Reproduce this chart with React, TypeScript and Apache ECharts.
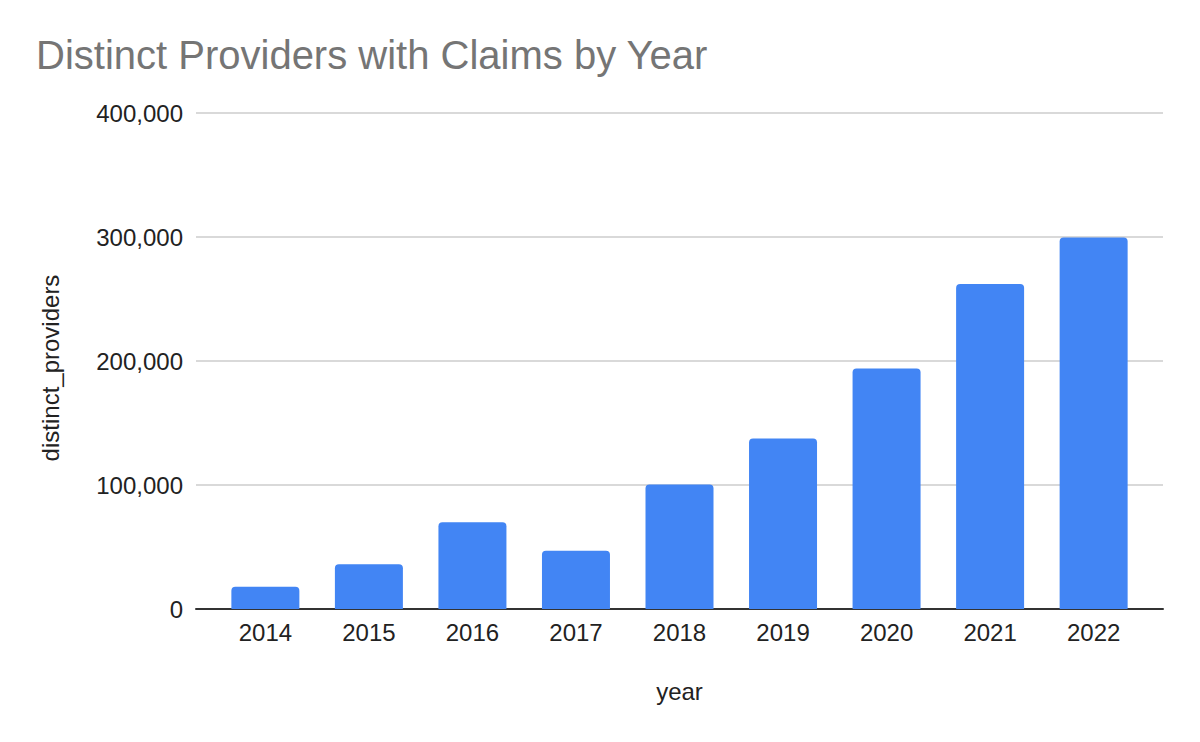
import { useEffect, useRef } from 'react';
import * as echarts from 'echarts';

const years = [2014, 2015, 2016, 2017, 2018, 2019, 2020, 2021, 2022];
const distinctProviders = [18000, 36000, 70000, 47000, 100500, 137500, 194000, 262000, 299500];
const yTicks = [0, 100000, 200000, 300000, 400000];

const FONT = '"Liberation Sans", Arial, sans-serif';

export default function App() {
  const chartRef = useRef<HTMLDivElement>(null);

  useEffect(() => {
    if (!chartRef.current) return;
    const chart = echarts.init(chartRef.current, undefined, { renderer: 'svg' });

    const option: echarts.EChartsOption = {
      animation: false,
      backgroundColor: '#ffffff',
      textStyle: { fontFamily: FONT },
      title: {
        text: 'Distinct Providers with Claims by Year',
        left: 36,
        top: 35,
        padding: 0,
        textStyle: {
          fontFamily: FONT,
          fontSize: 40,
          fontWeight: 'normal',
          color: '#757575',
          lineHeight: 40,
        },
      },
      grid: {
        left: 196,
        right: 37,
        top: 113,
        bottom: 133,
        containLabel: false,
      },
      xAxis: {
        type: 'value',
        min: 2013.33,
        max: 2022.67,
        name: 'year',
        nameLocation: 'middle',
        nameGap: 70,
        nameTextStyle: { fontFamily: FONT, fontSize: 24, color: '#222222', lineHeight: 24 },
        axisLine: { show: true, lineStyle: { color: '#333333', width: 2 } },
        axisTick: { show: false, customValues: years },
        splitLine: { show: false },
        axisLabel: {
          customValues: years,
          formatter: (v: number) => String(v),
          fontFamily: FONT,
          fontSize: 24,
          color: '#222222',
          margin: 11,
          lineHeight: 24,
        },
      },
      yAxis: {
        type: 'value',
        min: 0,
        max: 400000,
        interval: 100000,
        name: 'distinct_providers',
        nameLocation: 'middle',
        nameGap: 134,
        nameTextStyle: {
          fontFamily: FONT,
          fontSize: 24,
          color: '#222222',
          lineHeight: 24,
          padding: [0, 14, 0, 0],
        },
        axisLine: { show: false },
        axisTick: { show: false },
        splitLine: { lineStyle: { color: '#cccccc', width: 1.5 } },
        axisLabel: {
          customValues: yTicks,
          formatter: (v: number) => v.toLocaleString('en-US'),
          fontFamily: FONT,
          fontSize: 24,
          color: '#222222',
          margin: 13,
        },
      },
      series: [
        {
          name: 'distinct_providers',
          type: 'bar',
          barWidth: 68,
          itemStyle: { color: '#4285f4', borderRadius: [4, 4, 0, 0] },
          data: years.map((y, i) => [y, distinctProviders[i]]),
        },
      ],
    };

    chart.setOption(option);

    return () => {
      chart.dispose();
    };
  }, []);

  return (
    <div
      ref={chartRef}
      style={{ position: 'fixed', left: 0, top: 0, width: 1200, height: 742 }}
    />
  );
}
